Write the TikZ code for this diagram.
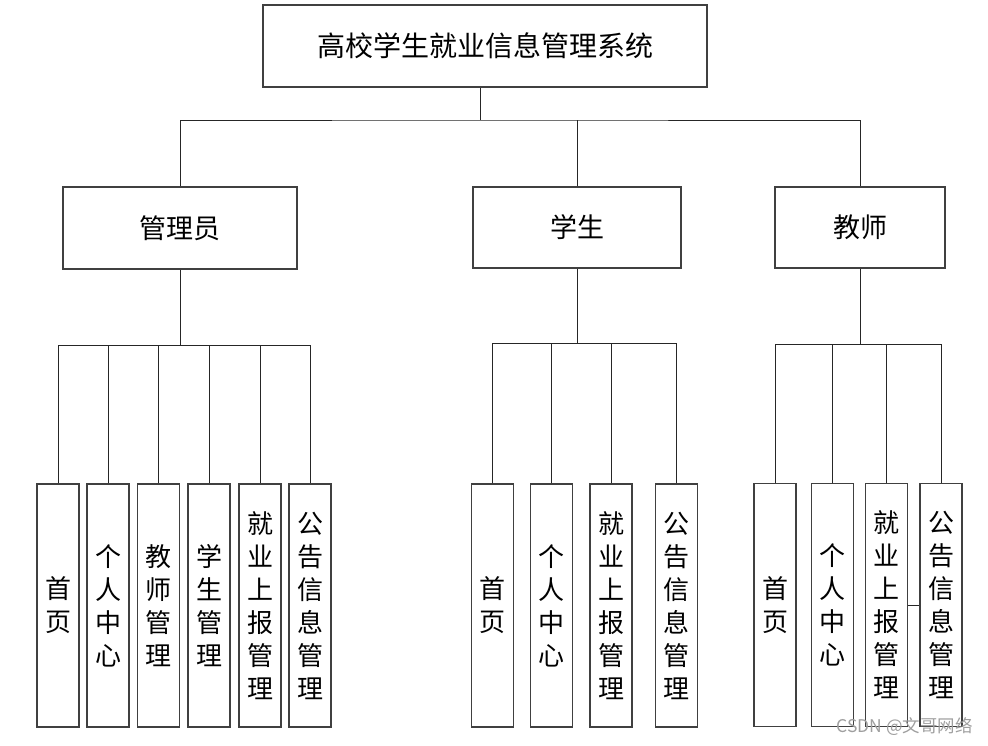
\documentclass[tikz,border=0pt]{standalone}
\usepackage{fontspec}
\setmainfont{Noto Sans CJK SC}
\usepackage{tikz}
\usetikzlibrary{positioning}

\begin{document}
\begin{tikzpicture}[x=1pt, y=-1pt,
  box/.style={draw=black!75, line width=1.2pt, inner sep=0pt, font=\fontsize{27}{30}\selectfont},
  leaf/.style={draw=black!75, line width=1.2pt, inner sep=0pt, minimum width=42pt, minimum height=243pt, align=center, font=\fontsize{26}{33}\selectfont},
  link/.style={draw=black!85, line width=1pt}]
\useasboundingbox (0,0) rectangle (988,745);

% top
\node[box, minimum width=444pt, minimum height=82pt, font=\fontsize{28}{30}\selectfont] (sys) at (485,46) {高校学生就业信息管理系统};

% roles
\node[box, minimum width=234pt, minimum height=82pt] (admin) at (180,228) {管理员};
\node[box, minimum width=208pt, minimum height=81pt] (stu) at (577,227.5) {学生};
\node[box, minimum width=170pt, minimum height=81pt] (tea) at (860,227.5) {教师};

\coordinate (j0) at (480,120);
\draw[link] (sys.south -| j0) -- (j0);
\draw[link] (admin.north) |- (j0) -| (tea.north);
\draw[link] (stu.north) -- (stu.north |- j0);

% admin pages
\node[leaf] (a1) at (58,605.5) {首\\页};
\node[leaf] (a2) at (108,605.5) {个\\人\\中\\心};
\node[leaf] (a3) at (158.5,605.5) {教\\师\\管\\理};
\node[leaf] (a4) at (209,605.5) {学\\生\\管\\理};
\node[leaf] (a5) at (260,605.5) {就\\业\\上\\报\\管\\理};
\node[leaf] (a6) at (310,605.5) {公\\告\\信\\息\\管\\理};

\coordinate (ja) at (180,345);
\draw[link] (admin.south) -- (ja);
\draw[link] (a1.north) |- (ja);
\draw[link] (a2.north) |- (ja);
\draw[link] (a3.north) |- (ja);
\draw[link] (a4.north) |- (ja);
\draw[link] (a5.north) |- (ja);
\draw[link] (a6.north) |- (ja);

% student pages
\node[leaf] (s1) at (492.5,605.5) {首\\页};
\node[leaf] (s2) at (551.5,605.5) {个\\人\\中\\心};
\node[leaf] (s3) at (611,605.5) {就\\业\\上\\报\\管\\理};
\node[leaf] (s4) at (676.5,605.5) {公\\告\\信\\息\\管\\理};

\coordinate (js) at (577,343);
\draw[link] (stu.south) -- (js);
\draw[link] (s1.north) |- (js);
\draw[link] (s2.north) |- (js);
\draw[link] (s3.north) |- (js);
\draw[link] (s4.north) |- (js);

% teacher pages
\node[leaf] (t1) at (775,605) {首\\页};
\node[leaf] (t2) at (832.5,605) {个\\人\\中\\心};
\node[leaf] (t3) at (886.5,605) {就\\业\\上\\报\\管\\理};
\node[leaf] (t4) at (941,605) {公\\告\\信\\息\\管\\理};

\coordinate (jt) at (860,344);
\draw[link] (tea.south) -- (jt);
\draw[link] (t1.north) |- (jt);
\draw[link] (t2.north) |- (jt);
\draw[link] (t3.north) |- (jt);
\draw[link] (t4.north) |- (jt);
\draw[link] (t3.east) -- (t4.west);

\node[anchor=east, inner sep=0pt, text=gray!75, font=\fontsize{17.5}{19}\selectfont] (mark) at (973,727) {CSDN @文哥网络};
\end{tikzpicture}
\end{document}
